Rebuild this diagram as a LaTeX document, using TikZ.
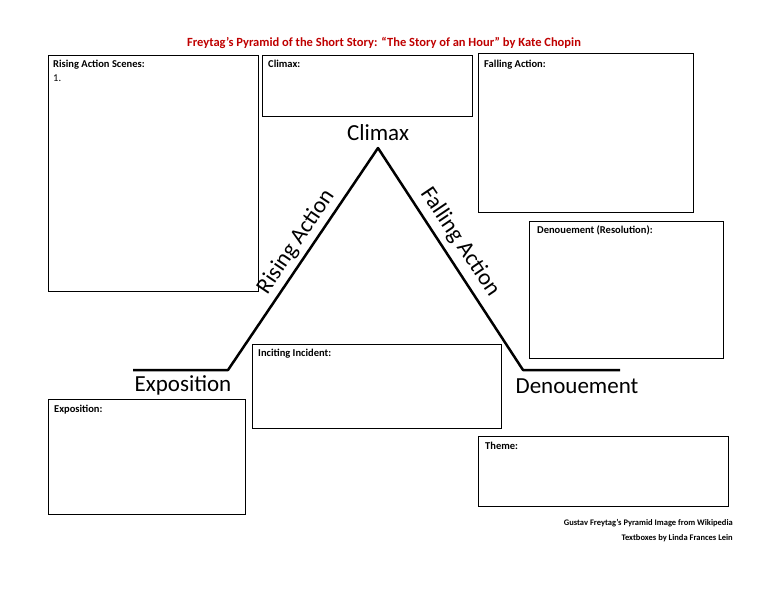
\documentclass[tikz,border=0pt]{standalone}
\usepackage{fontspec}
\setmainfont{Carlito}
\begin{document}
\begin{tikzpicture}[x=1pt,y=-1pt,
  tbox/.style={draw=black,line width=0.8pt},
  blabel/.style={anchor=north west,font=\fontsize{10.5}{12}\selectfont\bfseries,inner sep=0pt},
  plabel/.style={font=\fontsize{23}{24}\selectfont,inner sep=0pt}]
\useasboundingbox (0,0) rectangle (768,594);
\node[font=\fontsize{12.5}{14}\selectfont\bfseries,text=red!75!black] (title) at (384,43) {Freytag’s Pyramid of the Short Story: “The Story of an Hour” by Kate Chopin};
\draw[tbox] (48,55) rectangle (258,291);
\node[blabel] (l1) at (53,60) {Rising Action Scenes:};
\node[anchor=north west,font=\fontsize{10.5}{12}\selectfont,inner sep=0pt] (n1) at (53,75) {1.};
\draw[tbox] (262,55) rectangle (472,116);
\node[blabel] (l2) at (268,60) {Climax:};
\draw[tbox] (478,53) rectangle (693,212);
\node[blabel] (l3) at (484,60) {Falling Action:};
\draw[tbox] (529,221) rectangle (723,358);
\node[blabel] (l4) at (537,226) {Denouement (Resolution):};
\draw[tbox] (252,344) rectangle (501,428);
\node[blabel] (l5) at (258,349) {Inciting Incident:};
\draw[tbox] (48,399) rectangle (245,514);
\node[blabel] (l6) at (54,405) {Exposition:};
\draw[tbox] (478,436) rectangle (728,506);
\node[blabel] (l7) at (485,442) {Theme:};
\draw[line width=2.5pt,line join=round] (133,370) -- (228,370) -- (378,148) -- (523,370) -- (620,370);
\node[plabel] (c) at (378,133) {Climax};
\node[plabel,rotate=56] (ra) at (296,242) {Rising Action};
\node[plabel,rotate=-56] (fa) at (460,242) {Falling Action};
\node[plabel] (ex) at (183,385) {Exposition};
\node[plabel] (de) at (577,386) {Denouement};
\node[anchor=east,font=\fontsize{8.5}{15}\selectfont\bfseries,inner sep=0pt,align=right] (cr) at (733,531) {Gustav Freytag’s Pyramid Image from Wikipedia\\Textboxes by Linda Frances Lein};
\end{tikzpicture}
\end{document}
